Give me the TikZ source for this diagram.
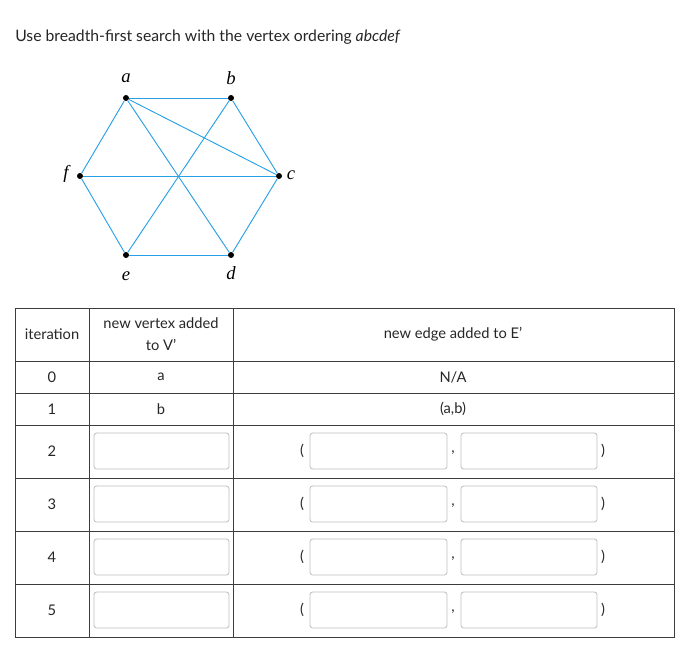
\documentclass[tikz,border=0pt]{standalone}
\usepackage{fontspec}
\setmainfont{Lato}
\newfontfamily\gfont{Liberation Serif}
\definecolor{edgeblue}{RGB}{40,160,230}
\definecolor{grid}{RGB}{60,60,60}
\definecolor{boxc}{RGB}{190,190,190}
\begin{document}
\begin{tikzpicture}[x=0.75pt,y=-0.75pt,
  vtx/.style={circle,fill=black,inner sep=0pt,minimum size=4.5pt},
  lbl/.style={font=\gfont\itshape\fontsize{14}{14}\selectfont},
  ge/.style={edgeblue,line width=0.7pt},
  txt/.style={font=\fontsize{11}{13}\selectfont,text=black!85},
  inbox/.style={draw=boxc,rounded corners=2pt,line width=0.6pt},
  tl/.style={grid,line width=0.6pt}]
\useasboundingbox (0,0) rectangle (686,660);
\node[anchor=west,txt,font=\fontsize{11.8}{13}\selectfont,inner sep=0pt] (title) at (15,37) {Use breadth-first search with the vertex ordering \textit{abcdef}};
\node[vtx] (a) at (126,98) {};
\node[vtx] (b) at (231,98) {};
\node[vtx] (c) at (279,176) {};
\node[vtx] (d) at (231,255) {};
\node[vtx] (e) at (126,255) {};
\node[vtx] (f) at (80,176) {};
\foreach \u/\v in {a/b,a/f,a/c,a/d,b/c,b/e,c/d,c/f,d/e,e/f}
  \draw[ge] (\u) -- (\v);
\node[lbl] (la) at (126,78) {a};
\node[lbl] (lb) at (231,78) {b};
\node[lbl] (lc) at (291,175) {c};
\node[lbl] (ld) at (231,273) {d};
\node[lbl] (le) at (126,276) {e};
\node[lbl] (lf) at (66,174) {f};
% table
\draw[tl] (15,308) rectangle (674,637);
\foreach \yy in {361,393,425,478,531,584} \draw[tl] (15,\yy) -- (674,\yy);
\foreach \xx in {89,233} \draw[tl] (\xx,308) -- (\xx,637);
\node[txt] (h1) at (52,334) {iteration};
\node[txt,align=center] (h2) at (161,334) {new vertex added\\[3pt]to V'};
\node[txt] (h3) at (453,334) {new edge added to E'};
\node[txt] (r0a) at (52,377) {0};
\node[txt] (r0b) at (161,377) {a};
\node[txt] (r0c) at (453,377) {N/A};
\node[txt] (r1a) at (52,409) {1};
\node[txt] (r1b) at (161,409) {b};
\node[txt] (r1c) at (453,409) {(a,b)};
\foreach \n/\yy in {2/451,3/504,4/557,5/610}{
  \node[txt] (it\n) at (52,\yy) {\n};
  \draw[inbox] (94,\yy-18) rectangle (229,\yy+18);
  \node[txt] (lp\n) at (302,\yy) {(};
  \draw[inbox] (310,\yy-18) rectangle (447,\yy+18);
  \node[txt] (cm\n) at (453,\yy+2) {,};
  \draw[inbox] (461,\yy-18) rectangle (597,\yy+18);
  \node[txt] (rp\n) at (603,\yy) {)};
}
\end{tikzpicture}
\end{document}
